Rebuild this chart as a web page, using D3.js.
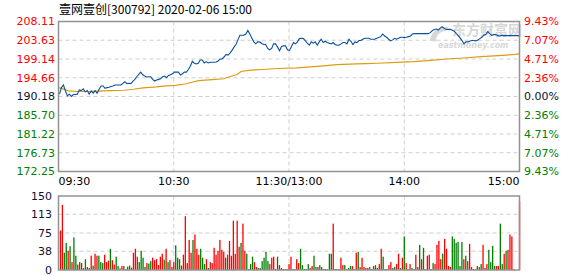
<!DOCTYPE html>
<html><head><meta charset="utf-8">
<script src="https://cdn.jsdelivr.net/npm/d3@7/dist/d3.min.js"></script>
<style>body{margin:0;background:#fff}svg{display:block}</style>
</head><body>
<svg id="c" width="578" height="276"></svg>
<script>
const title = "壹网壹创[300792] 2020-02-06 15:00";
const priceTicks = [208.11, 203.63, 199.14, 194.66, 190.18, 185.70, 181.22, 176.73, 172.25];
const pctTicks = ["9.43%", "7.07%", "4.71%", "2.36%", "0.00%", "2.36%", "4.71%", "7.07%", "9.43%"];
const tickDir = [1, 1, 1, 1, 0, -1, -1, -1, -1];
const timeTicks = [0, 60, 120, 180, 240];
const timeLabels = ["09:30", "10:30", "11:30/13:00", "14:00", "15:00"];
const volTicks = [150, 113, 75, 38, 0];

const prices = [
190.74,192.31,192.94,191.52,190.34,190.74,190.19,190.66,190.66,190.74,
191.76,191.60,191.99,191.29,191.60,190.74,191.52,190.97,191.60,190.97,
191.92,192.70,192.70,192.15,192.31,192.39,192.55,192.70,192.94,192.94,
192.94,192.94,193.33,193.72,193.25,193.33,193.25,193.80,194.27,194.90,
195.45,196.00,195.37,195.06,194.83,194.90,194.90,194.27,193.88,194.12,
194.27,194.43,194.90,195.06,194.67,195.22,195.37,195.61,196.00,196.00,
196.00,195.30,195.61,196.00,196.00,196.63,197.42,198.60,198.13,197.97,
198.13,198.91,198.91,198.21,198.52,198.21,198.36,198.36,198.36,
198.44,198.68,199.15,199.15,199.62,200.25,200.09,200.56,201.19,201.98,
202.61,203.71,204.81,204.81,204.81,205.12,205.99,205.12,204.18,203.24,
202.77,203.24,203.24,202.84,202.61,202.61,201.66,201.35,201.66,202.77,
202.77,201.98,201.11,202.14,202.29,202.29,201.35,201.19,202.14,203.08,
202.77,203.24,204.02,204.10,204.02,203.55,202.92,202.45,203.24,202.92,
203.24,202.45,203.24,203.87,203.08,203.39,203.08,202.92,202.77,203.08,
202.61,202.45,202.45,202.77,203.08,203.08,202.77,203.87,203.39,202.61,
203.24,203.08,203.55,203.55,203.87,204.10,204.10,
204.10,203.87,203.87,203.87,204.10,204.26,204.49,205.12,204.65,204.34,
203.87,203.47,203.71,204.10,203.87,204.10,204.34,204.34,204.26,204.34,
204.49,204.65,205.12,205.20,205.20,205.20,205.20,205.20,205.20,205.20,
205.20,205.44,205.91,206.22,206.30,206.07,206.54,206.85,206.46,206.22,
206.22,206.22,206.07,205.83,205.28,204.81,204.18,203.55,202.77,203.24,
203.24,203.47,203.55,203.55,203.47,203.71,204.02,204.34,204.81,205.05,
205.67,205.20,204.81,204.97,204.97,204.73,204.65,204.81,204.73,204.73,
204.73,204.73,204.73,204.73,204.73,204.73,204.73
];

const avgMinutes = [0,2,5,10,16,20,27,34,39,44,51,56,61,66,70,73,80,86,89,93,95,100,106,114,124,131,138,145,155,160,166,176,185,194,202,211,220,229,238,240];
const avgPrices = [192.31,192.07,191.52,191.37,191.37,191.45,191.60,191.68,191.92,192.23,192.47,192.70,192.86,193.17,193.65,193.96,194.20,194.43,194.90,195.45,196.16,196.48,196.63,196.87,197.03,197.26,197.50,197.81,197.97,198.05,198.13,198.36,198.52,198.83,199.15,199.38,199.70,199.94,200.25,200.41];

const volumes = [
80,132,35,55,39,48,16,66,29,11,16,14,4,22,6,4,29,9,33,29,
29,16,14,31,16,19,43,20,11,27,8,3,8,8,2,7,9,5,35,43,
27,16,39,25,6,14,13,18,25,20,22,10,27,33,21,43,16,20,6,16,
50,25,22,9,31,109,14,61,35,61,72,43,31,43,25,12,22,4,16,14,
45,31,39,61,41,37,25,31,59,29,100,33,100,47,55,94,39,33,2,12,
27,16,6,4,4,18,25,37,18,12,25,27,2,27,10,4,2,2,2,12,
27,2,2,22,14,43,10,2,2,12,4,8,29,6,6,10,6,2,2,2,
33,33,94,2,2,2,25,10,10,2,4,8,8,2,35,37,6,25,6,4,
4,6,2,8,10,4,12,43,27,2,2,10,16,4,6,12,33,4,25,68,
14,2,12,4,2,31,6,51,22,45,2,29,31,2,14,12,51,59,22,33,
63,43,8,6,68,63,55,57,8,57,22,29,18,53,6,2,2,8,6,12,
51,4,12,41,16,49,8,8,8,94,12,33,39,41,72,68,2,0,0,139
];
const volUp = [
1,1,0,0,1,0,1,0,0,1,0,1,0,0,1,0,1,0,1,1,
0,0,0,1,1,1,0,1,1,0,0,1,1,0,0,0,1,0,1,1,
1,0,0,0,0,1,0,0,1,1,1,1,1,1,0,1,0,1,1,1,
0,0,0,1,1,1,1,1,1,0,1,1,1,0,0,0,1,0,1,1,
1,1,1,1,1,1,0,1,1,1,1,1,1,1,0,1,1,0,0,0,
0,1,1,0,0,0,0,0,0,1,1,1,0,0,1,0,1,1,1,1,
1,0,0,1,1,0,0,0,0,0,1,1,0,0,1,0,0,0,0,0,
0,0,1,0,0,1,1,1,0,0,0,0,1,0,1,0,1,1,1,1,
1,0,0,0,1,0,1,1,0,0,0,1,1,0,0,1,1,0,1,0,
1,0,1,0,0,1,1,0,1,0,0,1,1,0,0,1,1,1,1,0,
1,1,1,1,0,0,0,0,0,0,1,0,1,1,1,1,0,1,0,0,
1,1,1,0,0,0,0,1,1,0,0,1,0,1,1,1,0,0,0,1
];

const L = 58.5, R = 519.5, T = 21.5, B = 171.5, VT = 196, VB = 270;
const svg = d3.select("#c");
const RED = "#ff0000", GREEN = "#008000", DARK = "#111133";
const font = "'DejaVu Sans', Verdana, sans-serif";

const x = d3.scaleLinear().domain([0, 240]).range([L, R]);
const y = d3.scaleLinear().domain([172.25, 208.11]).range([B, T]);
const yv = d3.scaleLinear().domain([0, 150]).range([VB, VT]);

// title
svg.append("text").attr("x", 59).attr("y", 13.5)
  .attr("font-family", "'Noto Sans CJK SC', sans-serif").attr("font-size", 12)
  .attr("fill", "#000").text(title);

// watermark
const wm = svg.append("g").attr("opacity", 0.55);
wm.append("text").attr("x", 452).attr("y", 34.5).attr("font-family", "'Noto Sans CJK SC', sans-serif")
  .attr("font-size", 14).attr("font-weight", "bold").attr("fill", "#b8b8b8").text("东方财富网");
wm.append("text").attr("x", 438).attr("y", 47.5).attr("font-family", "'DejaVu Sans', sans-serif")
  .attr("font-size", 8).attr("font-weight", "bold").attr("font-style", "italic").attr("fill", "#b8b8b8").text("eastmoney.com");
wm.append("path").attr("d", "M430,40 C432,30 440,26 448,27 L446,31 C440,31 436,35 436,42 Z").attr("fill", "#b8b8b8");

// grid main
const dash = "4,3";
svg.append("g").selectAll("line").data(priceTicks.slice(1, -1)).join("line")
  .attr("x1", L).attr("x2", R).attr("y1", d => y(d)).attr("y2", d => y(d))
  .attr("stroke", "#cfcfcf").attr("stroke-dasharray", dash);
svg.append("g").selectAll("line").data(timeTicks.slice(1, -1)).join("line")
  .attr("x1", d => x(d)).attr("x2", d => x(d)).attr("y1", T).attr("y2", B)
  .attr("stroke", "#cfcfcf").attr("stroke-dasharray", dash);
// grid volume
svg.append("g").selectAll("line").data(volTicks.slice(1, -1)).join("line")
  .attr("x1", L).attr("x2", R).attr("y1", d => yv(d)).attr("y2", d => yv(d))
  .attr("stroke", "#cfcfcf").attr("stroke-dasharray", dash);
svg.append("g").selectAll("line").data(timeTicks.slice(1, -1)).join("line")
  .attr("x1", d => x(d)).attr("x2", d => x(d)).attr("y1", VT).attr("y2", VB)
  .attr("stroke", "#cfcfcf").attr("stroke-dasharray", dash);

// volume bars
const xb = d3.scaleLinear().domain([0, volumes.length - 1]).range([x(1), x(240)]);
svg.append("g").selectAll("rect").data(volumes).join("rect")
  .attr("x", (d, i) => xb(i) - 0.6).attr("width", 1.3)
  .attr("y", d => yv(d)).attr("height", d => VB - yv(d))
  .attr("fill", (d, i) => volUp[i] ? RED : GREEN);

// lines
const xp = d3.scaleLinear().domain([0, prices.length - 1]).range([x(0.5), x(240)]);
svg.append("path").datum(avgPrices)
  .attr("d", d3.line().x((d, i) => x(avgMinutes[i])).y(d => y(d)))
  .attr("fill", "none").attr("stroke", "#dc9c10").attr("stroke-width", 1.2);
svg.append("path").datum(prices)
  .attr("d", d3.line().x((d, i) => xp(i)).y(d => y(d)))
  .attr("fill", "none").attr("stroke", "#0b4f9e").attr("stroke-width", 1.1);

// frames
svg.append("rect").attr("x", L).attr("y", T).attr("width", R - L).attr("height", B - T)
  .attr("fill", "none").attr("stroke", "#929292").attr("stroke-width", 1.5);
svg.append("rect").attr("x", L).attr("y", VT).attr("width", R - L).attr("height", VB - VT)
  .attr("fill", "none").attr("stroke", "#929292").attr("stroke-width", 1.5);

// left price labels
const colorFor = d => d > 0 ? RED : (d < 0 ? GREEN : DARK);
svg.append("g").selectAll("text").data(priceTicks).join("text")
  .attr("x", 55).attr("y", d => y(d)).attr("dy", "0.36em").attr("text-anchor", "end")
  .attr("font-family", font).attr("font-size", 11)
  .attr("fill", (d, i) => colorFor(tickDir[i])).text(d => d.toFixed(2));
// right pct labels
svg.append("g").selectAll("text").data(pctTicks).join("text")
  .attr("x", 524).attr("y", (d, i) => y(priceTicks[i])).attr("dy", "0.36em")
  .attr("font-family", font).attr("font-size", 11)
  .attr("fill", (d, i) => colorFor(tickDir[i])).text(d => d);
// time labels
svg.append("g").selectAll("text").data(timeTicks).join("text")
  .attr("x", d => x(d)).attr("y", 185)
  .attr("text-anchor", (d, i) => i === 0 ? "start" : (i === timeTicks.length - 1 ? "end" : "middle"))
  .attr("font-family", font).attr("font-size", 11).attr("fill", "#000")
  .text((d, i) => timeLabels[i]);
// volume labels
svg.append("g").selectAll("text").data(volTicks).join("text")
  .attr("x", 52).attr("y", d => yv(d)).attr("dy", "0.36em").attr("text-anchor", "end")
  .attr("font-family", font).attr("font-size", 11).attr("fill", DARK).text(d => d);
</script>
</body></html>
